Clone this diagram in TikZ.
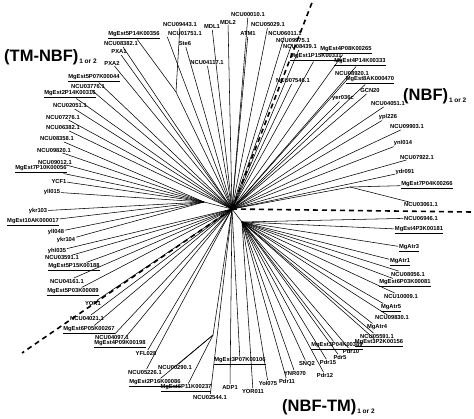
\documentclass[tikz,border=0pt]{standalone}
\usepackage{fontspec}
\newfontfamily\arial{Liberation Sans}
\newcommand{\ul}[1]{\underline{#1}}
\begin{document}
\begin{tikzpicture}[x=1pt,y=-1pt,
 lab/.style={font=\arial\bfseries\fontsize{5.8}{6}\selectfont, inner sep=0.7pt},
 br/.style={line width=0.55pt},
 dsh/.style={line width=1.6pt, dash pattern=on 5pt off 4pt},
 big/.style={font=\arial\bfseries\fontsize{16.5}{17}\selectfont, inner sep=0pt, anchor=base west},
 sub/.style={font=\arial\bfseries\fontsize{6.5}{7}\selectfont, inner sep=0.5pt, anchor=base west}]
\useasboundingbox (0,0) rectangle (474,418);
\fill[white] (0,0) rectangle (474,418);
% internal nodes
\coordinate (C) at (232,209);
\coordinate (L) at (204,202);
\coordinate (R) at (242,222);
\coordinate (T1) at (176,92);
\coordinate (N1) at (350,187);
\coordinate (B1) at (213,335);
% dashed separators
\coordinate (d1) at (313,0);
\coordinate (d2) at (472,212);
\coordinate (d3) at (22,353);
% labels
\node[lab] (a1) at (180,25) {NCU09443.1};
\node[lab] (a2) at (134,35) {\ul{MgEst5P14K00356}};
\node[lab] (a3) at (121,44) {NCU08382.1};
\node[lab] (a4) at (119,52) {PXA1};
\node[lab] (a5) at (112,63) {PXA2};
\node[lab] (a6) at (94,78) {\ul{MgEst5P07K00044}};
\node[lab] (a7) at (88,87) {NCU03776.1};
\node[lab] (a8) at (70,94) {\ul{MgEst2P14K00316}};
\node[lab] (a9) at (70,106) {NCU02051.1};
\node[lab] (a10) at (63,117) {NCU07276.1};
\node[lab] (a11) at (63,128) {NCU06382.1};
\node[lab] (a12) at (57,139) {NCU08358.1};
\node[lab] (a13) at (54,150) {NCU09820.1};
\node[lab] (a14) at (55,162) {NCU09012.1};
\node[lab] (a15) at (41,169) {\ul{MgEst7P10K00056}};
\node[lab] (a16) at (59,181) {YCF1};
\node[lab] (a17) at (52,192) {yll015};
\node[lab] (a18) at (38,211) {ykr103};
\node[lab] (a19) at (33,222) {\ul{MgEst10AK000017}};
\node[lab] (a20) at (56,232) {yll048};
\node[lab] (a21) at (66,240) {ykr104};
\node[lab] (a22) at (57,251) {yhl035};
\node[lab] (a23) at (62,258) {NCU03591.1};
\node[lab] (a24) at (74,267) {\ul{MgEst5P15K00188}};
\node[lab] (a25) at (67,281) {NCU04161.1};
\node[lab] (a26) at (73,292) {\ul{MgEst5P03K00089}};
\node[lab] (a27) at (93,303) {YOR1};
\node[lab] (a28) at (87,318) {NCU04021.1};
\node[lab] (a29) at (89,330) {\ul{MgEst6P05K00267}};
\node[lab] (a30) at (112,337) {NCU04097.1};
\node[lab] (a31) at (120,344) {\ul{MgEst4P09K00198}};
\node[lab] (a32) at (146,353) {YFL028};
\node[lab] (a33) at (145,372) {NCU05226.1};
\node[lab] (a34) at (175,367) {NCU00290.1};
\node[lab] (a35) at (155,383) {\ul{MgEst2P16K00086}};
\node[lab] (a36) at (186,388) {\ul{MgEst6P11K00237}};
\node[lab] (a37) at (210,397) {NCU02544.1};
\node[lab] (a38) at (230,387) {ADP1};
\node[lab] (a39) at (240,361) {\ul{MgEst3P07K00106}};
\node[lab] (a40) at (253,391) {YOR011};
\node[lab] (a41) at (268,383) {Yol075};
\node[lab] (a42) at (287,381) {Pdr11};
\node[lab] (a43) at (295,373) {YNR070};
\node[lab] (a44) at (307,364) {SNQ2};
\node[lab] (a45) at (325,375) {Pdr12};
\node[lab] (a46) at (328,362) {Pdr15};
\node[lab] (a47) at (340,357) {Pdr5};
\node[lab] (a48) at (351,351) {Pdr10};
\node[lab] (a49) at (337,346) {\ul{MgEst3P04K00389}};
\node[lab] (a50) at (379,343) {\ul{MgEst3P2K00156}};
\node[lab] (a51) at (377,336) {NCU05591.1};
\node[lab] (a52) at (377,327) {MgAtr4};
\node[lab] (a53) at (392,318) {NCU09830.1};
\node[lab] (a54) at (391,308) {\ul{MgAtr5}};
\node[lab] (a55) at (401,296) {NCU10009.1};
\node[lab] (a56) at (405,283) {\ul{MgEst6P03K00081}};
\node[lab] (a57) at (408,274) {NCU08056.1};
\node[lab] (a58) at (400,262) {\ul{MgAtr1}};
\node[lab] (a59) at (409,248) {\ul{MgAtr3}};
\node[lab] (a60) at (419,230) {\ul{MgEst4P3K00181}};
\node[lab] (a61) at (421,218) {NCU06946.1};
\node[lab] (a62) at (421,205) {NCU03061.1};
\node[lab] (a63) at (427,185) {\ul{MgEst7P04K00266}};
\node[lab] (a64) at (405,172) {ydr091};
\node[lab] (a65) at (417,157) {NCU07922.1};
\node[lab] (a66) at (403,143) {ynl014};
\node[lab] (a67) at (407,127) {NCU09903.1};
\node[lab] (a68) at (388,117) {ypl226};
\node[lab] (a69) at (388,104) {NCU04051.1};
\node[lab] (a70) at (370,91) {GCN20};
\node[lab] (a71) at (343,98) {yer036c};
\node[lab] (a72) at (370,80) {\ul{MgEst8AK000470}};
\node[lab] (a73) at (352,74) {NCU08920.1};
\node[lab] (a74) at (360,62) {\ul{MgEst4P14K00333}};
\node[lab] (a75) at (346,50) {\ul{MgEst4P08K00265}};
\node[lab] (a76) at (316,57) {\ul{MgEst1P15K00331}};
\node[lab] (a77) at (293,81) {NCU07546.1};
\node[lab] (a78) at (300,47) {NCU08439.1};
\node[lab] (a79) at (293,41) {NCU09975.1};
\node[lab] (a80) at (285,34) {NCU06011.1};
\node[lab] (a81) at (268,25) {NCU05029.1};
\node[lab] (a82) at (248,34) {ATM1};
\node[lab] (a83) at (248,15) {NCU00010.1};
\node[lab] (a84) at (228,22) {MDL2};
\node[lab] (a85) at (212,27) {MDL1};
\node[lab] (a86) at (207,63) {NCU04117.1};
\node[lab] (a87) at (185,44) {Ste6};
\node[lab] (a88) at (185,34) {NCU01751.1};
% branches
\draw[br] (C) -- (L);
\draw[br] (C) -- (R);
\draw[br] (C) -- (T1);
\draw[br] (C) -- (N1);
\draw[br] (C) -- (B1);
\foreach \n in {a1,a2} \draw[br] (T1) -- (\n);
\foreach \n in {a12,a13,a14,a15,a16,a17,a18,a19,a20,a21} \draw[br] (L) -- (\n);
\foreach \n in {a34,a35,a36} \draw[br] (B1) -- (\n);
\foreach \n in {a62,a63} \draw[br] (N1) -- (\n);
\foreach \n in {a40,a41,a42,a43,a44,a45,a46,a47,a48,a49,a50,a51,a52,a53,a54,a55,a56,a57,a58,a59,a60,a61} \draw[br] (R) -- (\n);
\foreach \n in {a3,a4,a5,a6,a7,a8,a9,a10,a11,a22,a23,a24,a25,a26,a27,a28,a29,a30,a31,a32,a33,a37,a38,a39,a64,a65,a66,a67,a68,a69,a70,a71,a72,a73,a74,a75,a76,a77,a78,a79,a80,a81,a82,a83,a84,a85,a86,a87} \draw[br] (C) -- (\n);
\draw[br] (C) -- (a88.south west);
% dashed
\draw[dsh] (C) -- (d1);
\draw[dsh] (C) -- (d2);
\draw[dsh] (C) -- (d3);
% group labels
\node[big] (g1) at (4,61) {(TM-NBF)};
\node[sub] (g1s) at ([yshift=-2pt]g1.base east) {1 or 2};
\node[big] (g2) at (403,100) {(NBF)};
\node[sub] (g2s) at ([yshift=-2pt]g2.base east) {1 or 2};
\node[big] (g3) at (282,411) {(NBF-TM)};
\node[sub] (g3s) at ([yshift=-2pt]g3.base east) {1 or 2};
\end{tikzpicture}
\end{document}
